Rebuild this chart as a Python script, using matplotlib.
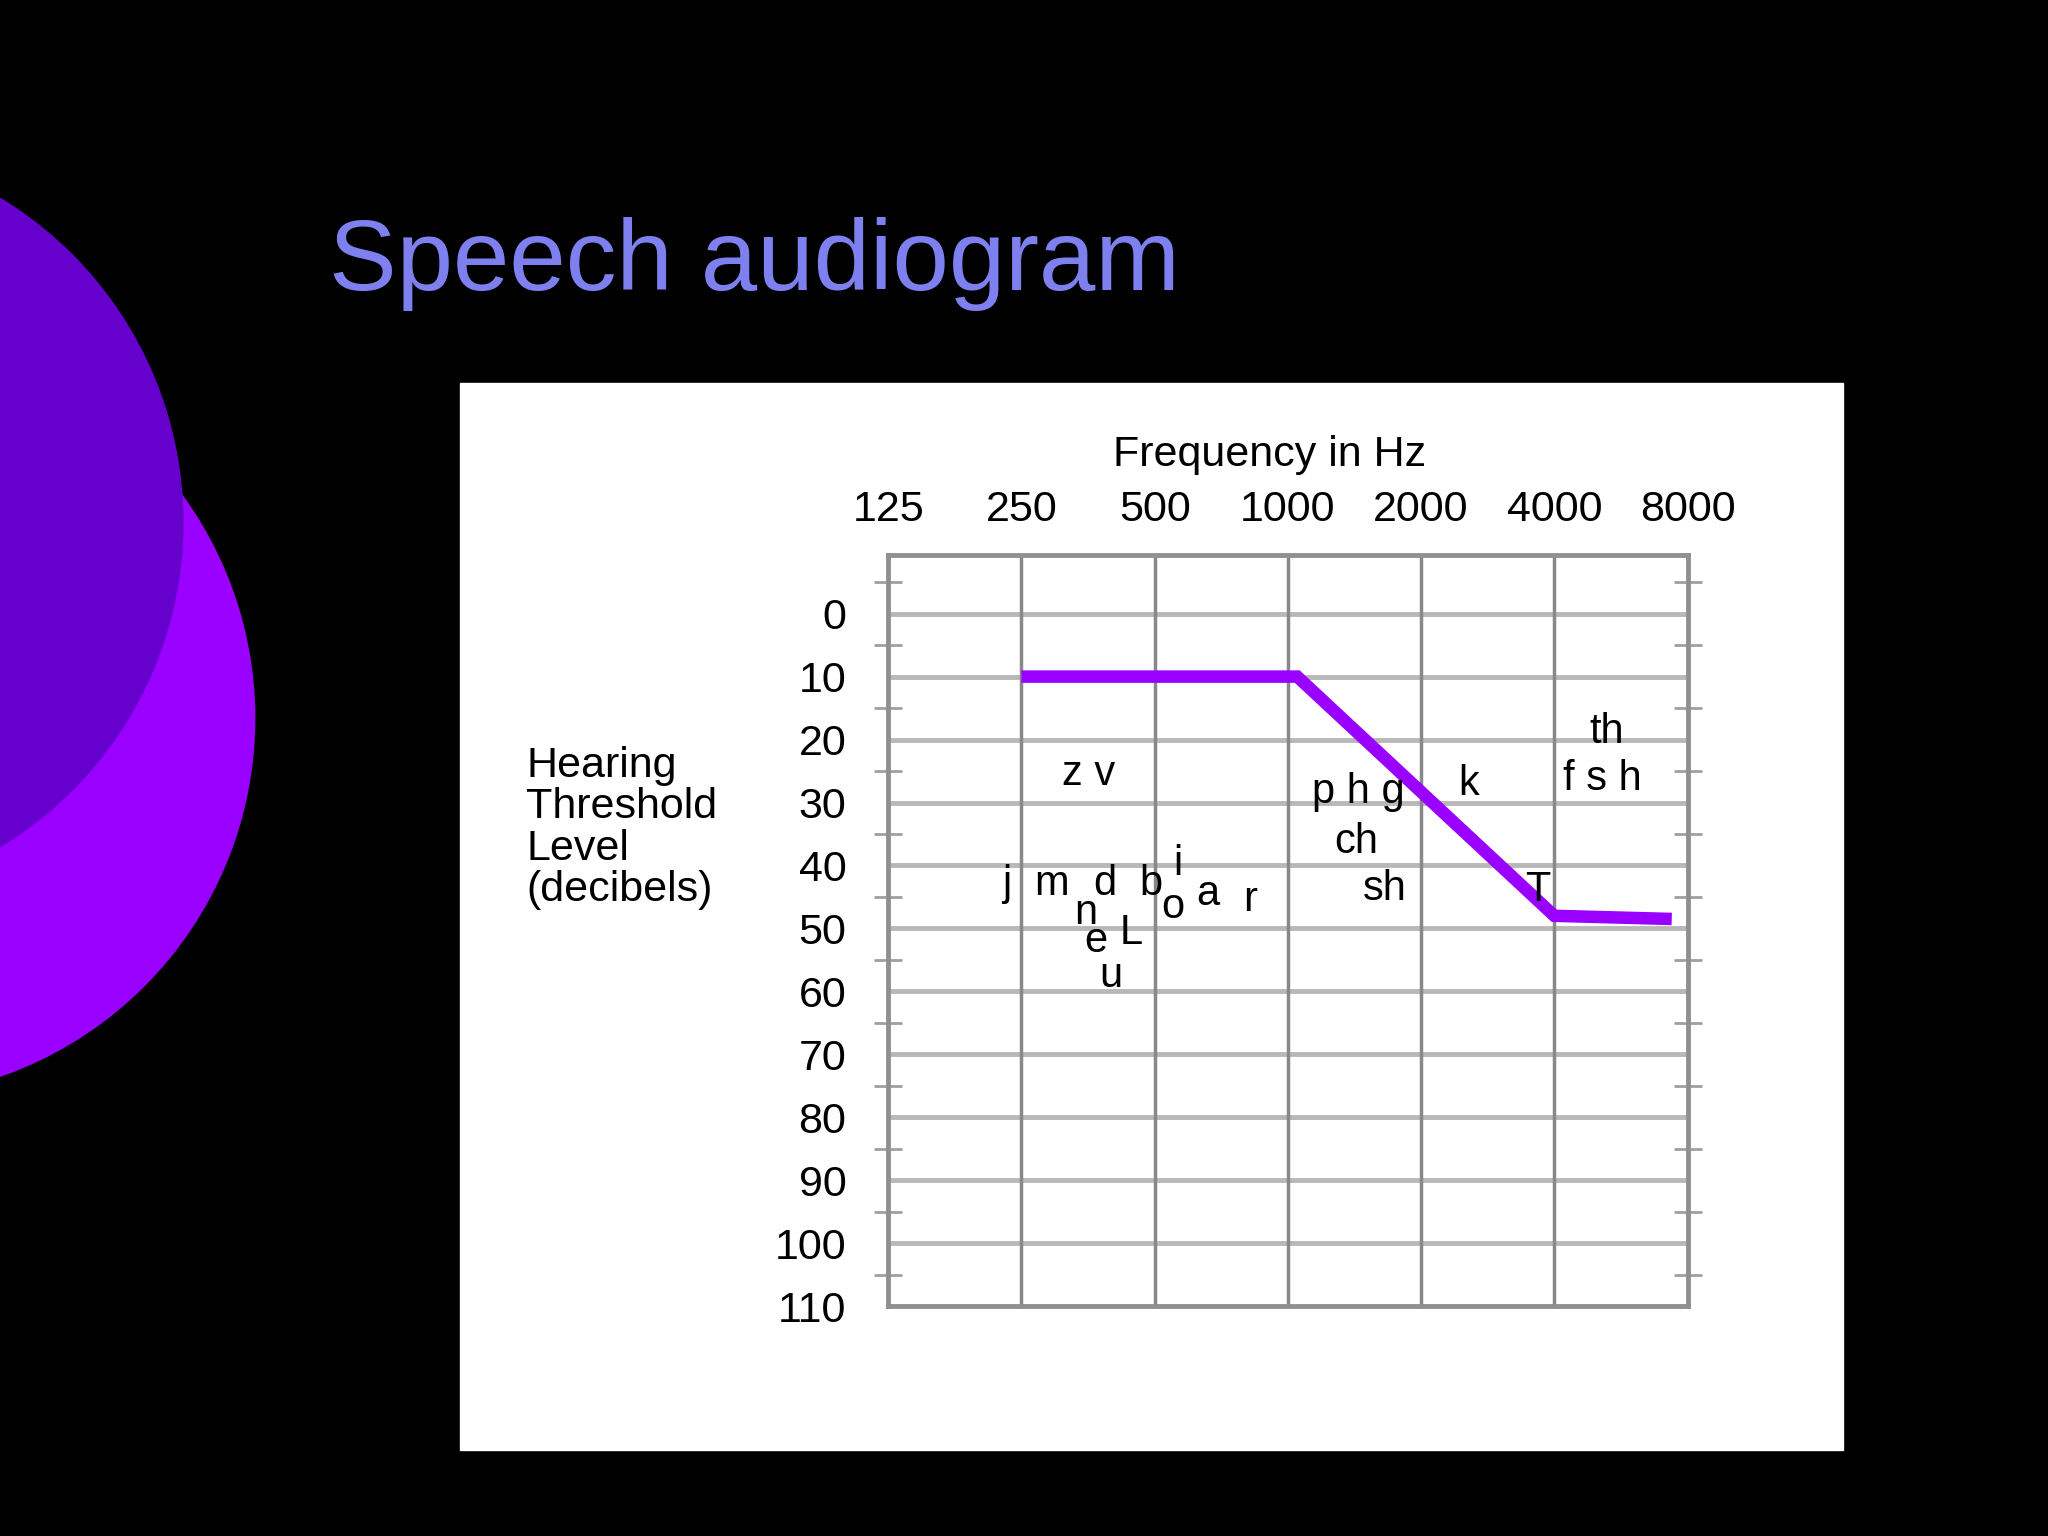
import matplotlib
matplotlib.use("Agg")
import matplotlib.pyplot as plt
from matplotlib.patches import Circle, Rectangle

plt.rcParams['font.family'] = ['Liberation Sans', 'DejaVu Sans']

freqs = [125, 250, 500, 1000, 2000, 4000, 8000]
freq_labels = ['125', '250', '500', '1000', '2000', '4000', '8000']
db_ticks = [0, 10, 20, 30, 40, 50, 60, 70, 80, 90, 100, 110]
line_freq = [250, 1050, 4000, 7370]
line_db = [10, 10, 48, 48.5]
sounds = ['z v', 'j', 'm', 'd', 'b', 'i', 'o', 'a', 'r', 'n', 'e', 'L', 'u',
          'p h g', 'ch', 'sh', 'k', 'th', 'f s h', 'T']
sound_freq = [354, 232, 292, 386, 490, 565, 550, 660, 821, 349, 368, 442, 399,
              1443, 1424, 1653, 2556, 5250, 5143, 3663]
sound_db = [25.5, 43, 43, 43, 43, 39.7, 46.6, 44.5, 45.5, 47.6, 52.0, 50.7, 57.6,
            28.4, 36.2, 43.7, 27.1, 18.8, 26.3, 43.9]

W, H = 1568, 1176
fig = plt.figure(figsize=(20.48, 15.36), dpi=100, facecolor='black')
bg = fig.add_axes([0, 0, 1, 1])
bg.set_xlim(0, W); bg.set_ylim(H, 0); bg.axis('off')
bg.set_facecolor('black')
bg.add_patch(Circle((-95, 550), 290, color='#9900ff', zorder=1))
bg.add_patch(Circle((-150, 400), 290, color='#6600cc', zorder=2))
bg.add_patch(Rectangle((352, 293), 1059, 817, color='white', zorder=3))
bg.text(252, 222, 'Speech audiogram', color='#7f80f0', fontsize=73, zorder=4)
bg.text(972, 357, 'Frequency in Hz', fontsize=31, ha='center', va='baseline', zorder=4)
bg.text(403, 634, 'Hearing\nThreshold\nLevel\n(decibels)', fontsize=31, ha='left',
        va='center', linespacing=1.05, zorder=4)

ax = fig.add_axes([680 / W, 1 - 1000 / H, 612 / W, 575 / H])
ax.set_facecolor('none')
ax.set_xscale('log', base=2)
ax.set_xlim(125, 8000)
ax.set_ylim(109.7, -9.3)
for d in db_ticks[:-1]:
    ax.axhline(d, color='#b8b8b8', lw=3.5, zorder=1)
for f in freqs[1:-1]:
    ax.axvline(f, color='#888888', lw=2.5, zorder=1)
for s in ax.spines.values():
    s.set_color('#909090'); s.set_linewidth(3.5)
ax.xaxis.tick_top()
ax.set_xticks(freqs)
ax.set_xticklabels(freq_labels, fontsize=31)
ax.xaxis.set_minor_locator(matplotlib.ticker.NullLocator())
ax.set_yticks(db_ticks)
ax.set_yticklabels([str(d) for d in db_ticks], fontsize=31)
ax.tick_params(axis='y', which='major', length=0, pad=30)
ax.tick_params(axis='x', which='major', length=0, pad=18)
ax.set_yticks([d - 5 for d in db_ticks], minor=True)
ax.tick_params(axis='y', which='minor', length=20, width=2, color='#a0a0a0',
               direction='inout', right=True)

ax.plot(line_freq, line_db, color='#9900ff', lw=9, solid_capstyle='butt',
        solid_joinstyle='miter', zorder=3)
for s, f, d in zip(sounds, sound_freq, sound_db):
    ax.text(f, d, s, fontsize=30, ha='center', va='center', zorder=4)

fig.savefig('out.png', dpi=100, facecolor='black')
